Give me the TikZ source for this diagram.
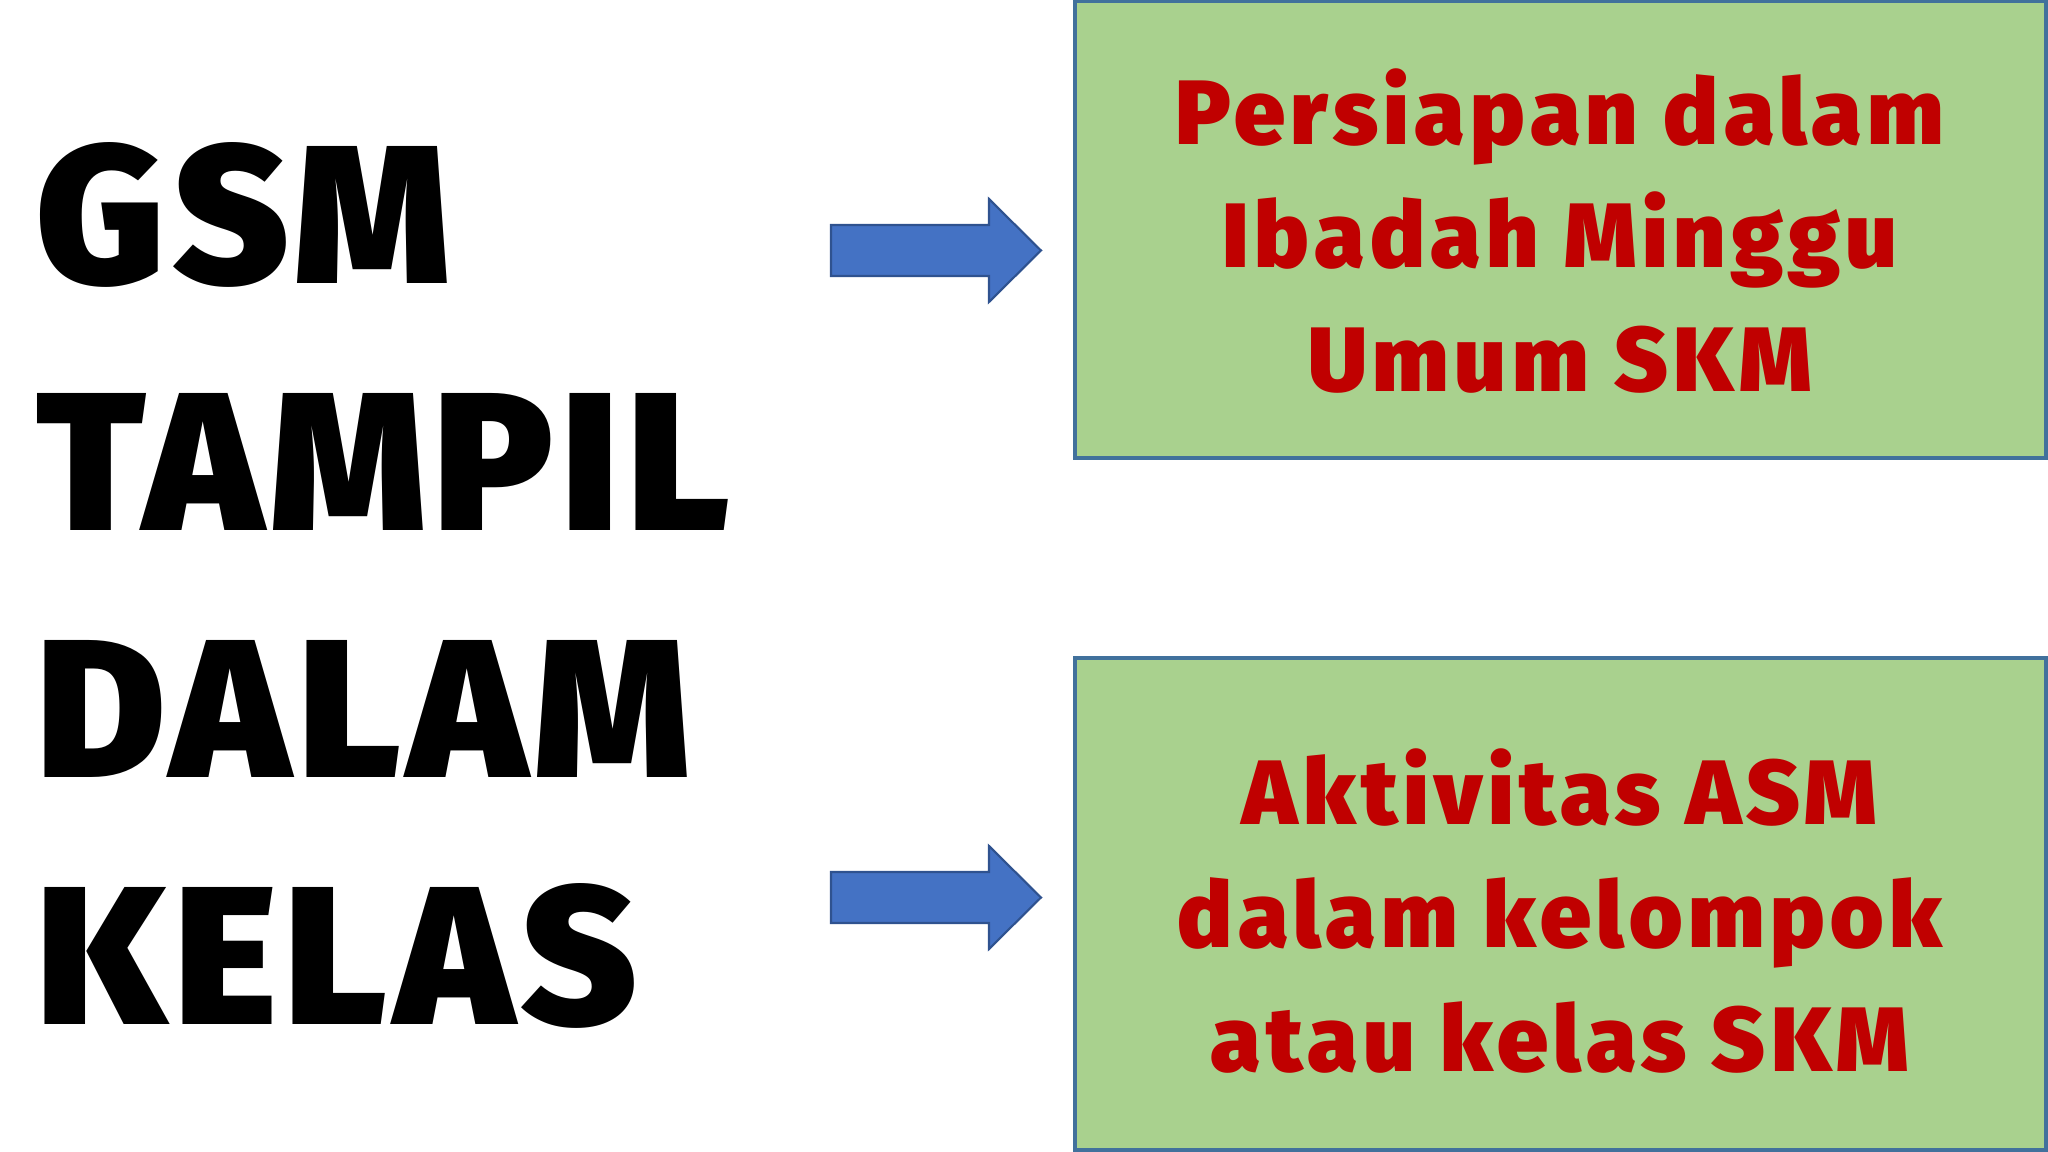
\documentclass[tikz,border=0pt]{standalone}
\usepackage{fontspec}
\newfontfamily\heavyfont{Fira Sans Black}[LetterSpace=4]
\newfontfamily\notefont{Fira Sans Black}[LetterSpace=6]
\definecolor{boxgreen}{HTML}{A9D18E}
\definecolor{boxline}{HTML}{41719C}
\definecolor{arrowblue}{HTML}{4472C4}
\definecolor{arrowline}{HTML}{2F528F}
\definecolor{textred}{HTML}{C00000}

\tikzset{
  bigword/.style={font=\heavyfont\fontsize{56}{70}\selectfont, anchor=base west, inner sep=0pt},
  greenbox/.style={fill=boxgreen, draw=boxline, line width=1.2pt},
  boxtext/.style={font=\notefont\fontsize{26}{35}\selectfont, text=textred, align=center, inner sep=0pt},
  blockarrow/.style={fill=arrowblue, draw=arrowline, line width=0.6pt}
}

\begin{document}
\begin{tikzpicture}[x=0.01cm,y=-0.01cm]

% whole slide, 2048 x 1152
\useasboundingbox (0,0) rectangle (2048,1152);

%the title on the left, one word per line
\foreach \w [count=\i] in {GSM,TAMPIL,DALAM,KELAS}{
    \node[bigword] (word\i) at (36,284+246.7*\i-246.7) {\w};
}

%the two blue arrows
\foreach \oy in {0,647}{
    \draw[blockarrow] (831,225+\oy) -- (989,225+\oy) -- (989,199+\oy) -- (1041,250.5+\oy)
        -- (989,302+\oy) -- (989,276+\oy) -- (831,276+\oy) -- cycle;
}

%upper green box
\draw[greenbox] (1075,1) rectangle (2046,458);
\node[boxtext] (ibadah) at (1560,231) {Persiapan dalam\\Ibadah Minggu\\Umum SKM};

%lower green box
\draw[greenbox] (1075,658) rectangle (2046,1150);
\node[boxtext] (kelas) at (1560,911) {Aktivitas ASM\\dalam kelompok\\atau kelas SKM};

\end{tikzpicture}
\end{document}
